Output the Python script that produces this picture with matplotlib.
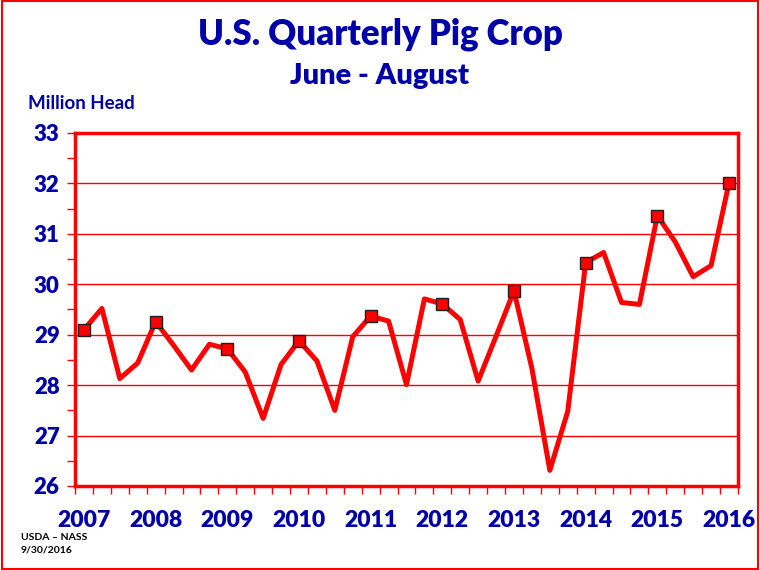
import matplotlib.pyplot as plt
from matplotlib.patches import Rectangle

# Quarterly pig crop, Jun-Aug 2007 .. Jun-Aug 2016 (million head)
values = [29.10, 29.52, 28.13, 28.44,
          29.26, 28.79, 28.30, 28.81,
          28.72, 28.26, 27.34, 28.41,
          28.88, 28.48, 27.50, 28.96,
          29.37, 29.27, 28.01, 29.71,
          29.61, 29.30, 28.08, 28.97,
          29.87, 28.33, 26.31, 27.48,
          30.43, 30.63, 29.64, 29.60,
          31.36, 30.84, 30.15, 30.37,
          32.01]
years = ['2007', '2008', '2009', '2010', '2011', '2012', '2013', '2014', '2015', '2016']

BLUE = '#0000a8'
RED = '#ff0000'
plt.rcParams['font.family'] = ['Lato', 'DejaVu Sans']

fig = plt.figure(figsize=(7.6, 5.7), dpi=100)
fig.patches.append(Rectangle((0.002, 0.002), 0.996, 0.996, transform=fig.transFigure,
                             fill=False, edgecolor=RED, linewidth=1.5))

ax = fig.add_axes([0.0987, 0.1474, 0.8723, 0.6193])
x = list(range(len(values)))
ax.plot(x, values, color=RED, linewidth=3.6, zorder=3)
ax.plot(x[::4], values[::4], linestyle='none', marker='s', markersize=8,
        markerfacecolor=RED, markeredgecolor='#202020', markeredgewidth=1, zorder=4)

ax.set_xlim(-0.5, len(values) - 0.5)
ax.set_ylim(26, 33)

# quarter boundaries as ticks, year labels under the Jun-Aug points
ax.set_xticks([i - 0.5 for i in range(len(values) + 1)])
ax.set_xticklabels([])
ax.set_xticks(x[::4], minor=True)
ax.set_xticklabels(years, minor=True)
ax.tick_params(axis='x', which='major', length=6, width=1, color=RED, direction='out')
ax.tick_params(axis='x', which='minor', length=0, pad=17, labelsize=16.5, labelcolor=BLUE)

ax.set_yticks(range(26, 34))
ax.set_yticks([v + 0.5 for v in range(26, 33)], minor=True)
ax.tick_params(axis='y', which='both', length=6, width=1, color=RED, direction='out',
               labelsize=16, labelcolor=BLUE, pad=5)
for lab in ax.get_xticklabels(minor=True) + ax.get_yticklabels():
    lab.set_fontweight('heavy')

ax.grid(axis='y', which='major', color=RED, linewidth=1)
for s in ax.spines.values():
    s.set_color(RED)
    s.set_linewidth(2.5)
ax.set_axisbelow(True)

fig.text(0.5, 0.94, 'U.S. Quarterly Pig Crop', ha='center', va='center',
         fontsize=25, fontweight='heavy', color=BLUE)
fig.text(0.5, 0.866, 'June - August', ha='center', va='center',
         fontsize=21, fontweight='heavy', color=BLUE)
fig.text(0.037, 0.818, 'Million Head', ha='left', va='center',
         fontsize=13.5, fontweight='bold', color=BLUE)
fig.text(0.027, 0.046, 'USDA \u2013 NASS\n9/30/2016', ha='left', va='center',
         fontsize=7.5, fontweight='bold', color='black', linespacing=1.5)

plt.savefig('out.png', dpi=100)
